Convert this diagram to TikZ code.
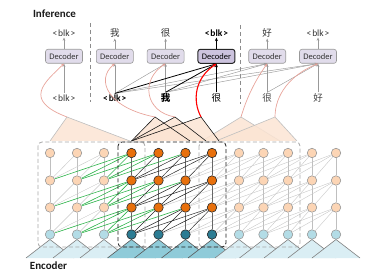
\documentclass[tikz,border=0pt]{standalone}
\usepackage{fontspec}
\setmainfont{Carlito}
\newfontfamily\cjk{Noto Sans CJK SC}
\usetikzlibrary{arrows.meta}
\definecolor{peach}{HTML}{FCD5B5}
\definecolor{orng}{HTML}{E8700C}
\definecolor{lblue}{HTML}{B3DCE6}
\definecolor{teal2}{HTML}{2C7C93}
\definecolor{trilight}{HTML}{DAEEF4}
\definecolor{tridark}{HTML}{8FCBD9}
\definecolor{decfill}{HTML}{E1DCEB}
\definecolor{decfillD}{HTML}{CCC3DE}
\definecolor{pinkcol}{HTML}{E8A49B}
\definecolor{peachtri}{HTML}{FBE4D3}
\definecolor{grn}{HTML}{2DB34A}
\pgfdeclarelayer{bg}
\pgfsetlayers{bg,main}
\newcommand\blk{<\kern.9pt blk\kern.9pt>}
\tikzset{
 gnode/.style={circle,inner sep=0pt,minimum size=9.5pt,line width=0.6pt},
 pch/.style={gnode,fill=peach,draw=black!40},
 org/.style={gnode,fill=orng,draw=black!85},
 lbl/.style={gnode,fill=lblue,draw=black!40},
 tel/.style={gnode,fill=teal2,draw=black!85},
 elight/.style={draw=black!22,line width=0.4pt},
 egreen/.style={draw=grn,line width=0.6pt},
 eblack/.style={draw=black!85,line width=0.5pt},
 vlight/.style={draw=black!25,line width=0.9pt},
 vdark/.style={draw=black!60,line width=0.9pt},
 dec/.style={rectangle,rounded corners=2.5pt,minimum width=37pt,minimum height=14pt,inner sep=0pt,fill=decfill,draw=black!40,line width=0.6pt,font=\fontsize{8.5}{9}\selectfont,text=black!80},
 decD/.style={dec,fill=decfillD,draw=black!85,line width=1pt,text=black},
 txt/.style={inner sep=1pt,font=\fontsize{9.5}{10}\selectfont,text=black!80},
 arr/.style={-{Stealth[length=3.2pt,width=2.6pt]},draw=black!40,line width=0.6pt},
 arrB/.style={-{Stealth[length=3.5pt,width=3pt]},draw=black,line width=0.8pt},
 attG/.style={arr,line width=0.45pt},
 pcurve/.style={-{Stealth[length=3pt,width=2.6pt]},draw=pinkcol,line width=0.7pt},
 rcurve/.style={-{Stealth[length=3.5pt,width=3pt]},draw=red,line width=1.1pt},
 sepline/.style={draw=black!45,line width=1pt,dash pattern=on 4pt off 3pt},
 wingray/.style={draw=black!35,line width=0.8pt,dash pattern=on 4pt off 2.5pt,rounded corners=4pt},
 winblack/.style={draw=black!90,line width=0.8pt,dash pattern=on 4pt off 2.5pt,rounded corners=4pt},
 ptri/.style={fill=peachtri,fill opacity=0.85,draw=black!25,line width=0.6pt},
 btri/.style={fill=peachtri,fill opacity=0.85,draw=black!90,line width=0.6pt},
 lab/.style={inner sep=0pt,font=\fontsize{11}{12}\selectfont\bfseries,text=black!90}
}
\begin{document}
\begin{tikzpicture}[x=1pt,y=-1pt]
\useasboundingbox (0,0) rectangle (374,280);

% labels
\node[lab] (inf) at (54.5,14) {Inference};
\node[lab] (enc) at (48.5,266) {Encoder};

% grid nodes
\foreach \x [count=\i from 0] in {50,77,104,131.5,158.5,185.5,212,239,263.5,288,312,336}{
  \foreach \y [count=\r from 0] in {153,180.5,207.5,234.5}{
    \pgfmathtruncatemacro\cin{(\i>2)*(\i<7)}
    \ifnum\r=3
      \ifnum\cin=1 \def\ns{tel}\else\def\ns{lbl}\fi
    \else
      \ifnum\cin=1 \def\ns{org}\else\def\ns{pch}\fi
    \fi
    \node[\ns] (n\i-\r) at (\x,\y) {};
  }
}

\begin{pgfonlayer}{bg}
% encoder triangles
\foreach \x [count=\i from 0] in {50,77,104,131.5,158.5,185.5,212,239,263.5,288,312,336}{
  \pgfmathtruncatemacro\cin{(\i>2)*(\i<7)}
  \ifnum\cin=1 \def\tf{tridark}\def\td{black!65}\else\def\tf{trilight}\def\td{black!50}\fi
  \fill[\tf] (\x-24,258) -- (\x,239.5) -- (\x+24,258) -- cycle;
  \draw[\td,line width=0.6pt] (\x-24,258) -- (\x,239.5) -- (\x+24,258);
}
% grid edges
\foreach \pass in {1,2,3}{
 \foreach \j in {0,...,11}{
  \foreach \r in {0,1,2}{
   \foreach \d in {0,1,2,3}{
    \pgfmathtruncatemacro\k{\j-\d}
    \pgfmathtruncatemacro\rr{\r+1}
    \ifnum\k>-1
      \pgfmathtruncatemacro\jin{(\j>2)*(\j<7)}
      \pgfmathtruncatemacro\kin{(\k>2)*(\k<7)}
      \ifnum\d=0
        \ifnum\jin=1 \def\cat{3}\def\ecol{vdark}\else\def\cat{1}\def\ecol{vlight}\fi
      \else
        \ifnum\jin=1
          \ifnum\kin=1 \def\cat{3}\def\ecol{eblack}\else\def\cat{2}\def\ecol{egreen}\fi
        \else \def\cat{1}\def\ecol{elight}\fi
      \fi
      \ifnum\cat=\pass\relax \draw[\ecol] (n\k-\rr) -- (n\j-\r); \fi
    \fi
   }
  }
 }
}
\end{pgfonlayer}

% windows
\draw[wingray] (38,142) rectangle (145,247);
\draw[wingray] (199,142) rectangle (300,247);
\draw[winblack] (118,142) rectangle (226,247);

% attention triangles above the windows
\coordinate (t1) at (67,117);
\coordinate (b0) at (131.5,141);
\coordinate (b1) at (155,117);
\coordinate (b2) at (175,117);
\coordinate (b3) at (201,117);
\coordinate (t5) at (241,117);
\coordinate (t6) at (275,117);
\fill[ptri,draw=none] (50,141) -- (t1) -- (130,141) -- cycle;
\draw[ptri,fill=none] (50,141) -- (t1) -- (130,141);
\fill[ptri,draw=none] (202,141) -- (t5) -- (280,141) -- cycle;
\draw[ptri,fill=none] (202,141) -- (t5) -- (280,141);
\fill[ptri,draw=none] (216,141) -- (t6) -- (297,141) -- cycle;
\draw[ptri,fill=none] (216,141) -- (t6) -- (297,141);
\fill[btri,draw=none] (b0) -- (b3) -- (219,141) -- cycle;
\fill[btri,draw=none] (b0) -- (b2) -- (206,141) -- cycle;
\fill[btri,draw=none] (b0) -- (b1) -- (190,141) -- cycle;
\draw[btri,fill=none] (b0) -- (b3) -- (219,141);
\draw[btri,fill=none] (b0) -- (b2) -- (206,141);
\draw[btri,fill=none] (b0) -- (b1) -- (190,141);

% separators
\draw[sepline] (90,23) -- (90,102);
\draw[sepline] (240,25) -- (240,104);

% decoders
\node[dec]  (d1) at (64,56.3) {Decoder};
\node[dec]  (d2) at (114.8,56.3) {Decoder};
\node[dec]  (d3) at (165.6,56.3) {Decoder};
\node[decD] (d4) at (216.4,56.3) {Decoder};
\node[dec]  (d5) at (267.2,56.3) {Decoder};
\node[dec]  (d6) at (318,56.3) {Decoder};

% outputs
\node[txt] (o1) at (64,33) {\blk};
\node[txt] (o2) at (114.8,33) {\cjk 我};
\node[txt] (o3) at (165.6,33) {\cjk 很};
\node[txt,text=black] (o4) at (216.4,33) {\bfseries \blk};
\node[txt] (o5) at (267.2,33) {\cjk 好};
\node[txt] (o6) at (318,33) {\blk};
\draw[arr] (d1.north) -- (o1.south);
\draw[arr] (d2.north) -- (o2.south);
\draw[arr] (d3.north) -- (o3.south);
\draw[arrB] (d4.north) -- (o4.south);
\draw[arr] (d5.north) -- (o5.south);
\draw[arr] (d6.north) -- (o6.south);

% inputs
\node[txt] (i1) at (64,98) {\blk};
\node[txt,text=black] (i2) at (114.8,98) {\bfseries \blk};
\node[txt,text=black] (i3) at (165.6,98) {\cjk\bfseries 我};
\node[txt,text=black] (i4) at (216.4,98) {\cjk 很};
\node[txt,text=black!70] (i5) at (267.2,98) {\cjk 很};
\node[txt,text=black!75] (i6) at (318,98) {\cjk 好};

% input-to-decoder attention
\draw[arr] (i1.north) -- (d1.south);
\draw[arr] (i2.north) -- (d2.south);
\draw[attG] (i2.north) -- (d3.south);
\draw[attG] (i2.north) -- (d5.south);
\draw[attG] (i2.north) -- (d6.south);
\draw[arr] (i3.north) -- (d3.south);
\draw[attG] (i3.north) -- (d5.south);
\draw[attG] (i3.north) -- (d6.south);
\draw[arr] (i5.north) -- (d5.south);
\draw[attG] (i5.north) -- (d6.south);
\draw[arr] (i6.north) -- (d6.south);
\draw[arrB] (i2.north) -- (d4.south);
\draw[arrB] (i3.north) -- (d4.south);
\draw[arrB] (i4.north) -- (d4.south);

% curves from encoder windows to decoders
\draw[pcurve] (t1) .. controls (22,100) and (45,82) .. (d1.south);
\draw[pcurve] (b1) .. controls (108,108) and (95,80) .. (d2.south);
\draw[pcurve] (b2) .. controls (145,112) and (140,80) .. (d3.south);
\draw[pcurve] (t5) .. controls (246,100) and (254,82) .. (d5.south);
\draw[pcurve] (t6) .. controls (275,95) and (290,75) .. (d6.south);
\draw[rcurve] (b3) .. controls (192,100) and (195,78) .. (d4.south);
\end{tikzpicture}
\end{document}
